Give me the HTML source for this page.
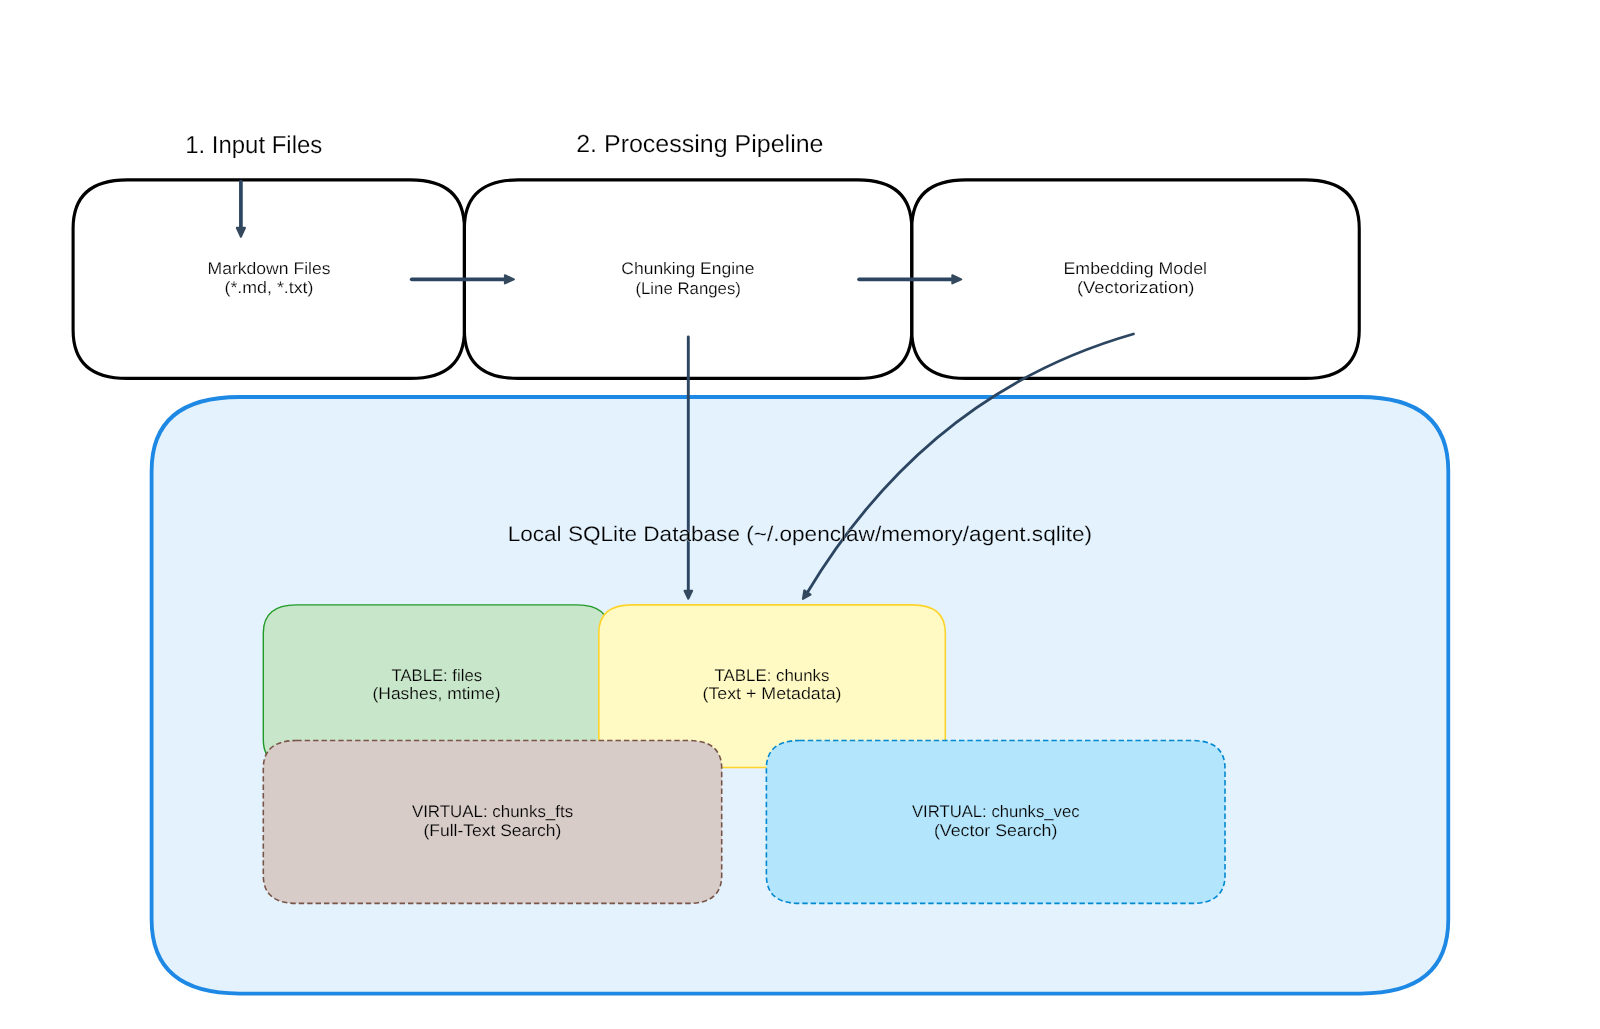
<!DOCTYPE html>
<html lang="en">
<head>
<meta charset="utf-8">
<title>Memory indexing pipeline</title>
<style>
html,body{margin:0;padding:0;background:#fff;}
body{width:1600px;height:1029px;overflow:hidden;}
svg{display:block;will-change:transform;}
text{font-family:"Liberation Sans",sans-serif;fill:#000;stroke-width:0.2px;text-rendering:geometricPrecision;}
.h{font-size:24.6px;}
.t{font-size:16.7px;}
.d{font-size:21px;}
</style>
</head>
<body>
<svg width="1600" height="1029" viewBox="0 0 1600 1029">
<rect width="1600" height="1029" fill="#fff"/>
<path d="M239.6 397H1360.3Q1448.3 397 1448.3 471V919.6Q1448.3 993.6 1360.3 993.6H239.6Q151.6 993.6 151.6 919.6V471Q151.6 397 239.6 397Z" fill="#e3f2fd" stroke="#1e88e5" stroke-width="3.8"/>
<path d="M127.1 179.9H410.4Q464.4 179.9 464.4 228.4V329.9Q464.4 378.4 410.4 378.4H127.1Q73.1 378.4 73.1 329.9V228.4Q73.1 179.9 127.1 179.9Z" fill="none" stroke="#000" stroke-width="3.1"/>
<path d="M518.4 179.9H857.75Q911.75 179.9 911.75 228.4V329.9Q911.75 378.4 857.75 378.4H518.4Q464.4 378.4 464.4 329.9V228.4Q464.4 179.9 518.4 179.9Z" fill="none" stroke="#000" stroke-width="3.1"/>
<path d="M965.75 179.9H1305.25Q1359.25 179.9 1359.25 228.4V329.9Q1359.25 378.4 1305.25 378.4H965.75Q911.75 378.4 911.75 329.9V228.4Q911.75 179.9 965.75 179.9Z" fill="none" stroke="#000" stroke-width="3.1"/>
<path d="M296.3 604.9H576.9Q609.9 604.9 609.9 632.9V739.5Q609.9 767.5 576.9 767.5H296.3Q263.3 767.5 263.3 739.5V632.9Q263.3 604.9 296.3 604.9Z" fill="#c8e6c9" stroke="#229a28" stroke-width="1.4"/>
<path d="M631.8 604.9H912.3Q945.3 604.9 945.3 632.9V739.5Q945.3 767.5 912.3 767.5H631.8Q598.8 767.5 598.8 739.5V632.9Q598.8 604.9 631.8 604.9Z" fill="#fff9c4" stroke="#fdd42c" stroke-width="1.6"/>
<path d="M296.3 740.5H688.7Q721.7 740.5 721.7 768.5V875.4Q721.7 903.4 688.7 903.4H296.3Q263.3 903.4 263.3 875.4V768.5Q263.3 740.5 296.3 740.5Z" fill="#d7ccc8" stroke="#795548" stroke-width="1.6" stroke-dasharray="5.4 3"/>
<path d="M799.4 740.5H1192Q1225 740.5 1225 768.5V875.4Q1225 903.4 1192 903.4H799.4Q766.4 903.4 766.4 875.4V768.5Q766.4 740.5 799.4 740.5Z" fill="#b3e5fc" stroke="#0288d1" stroke-width="1.6" stroke-dasharray="5.4 3"/>
<g fill="none" stroke="#2c4560" stroke-linecap="round">
<path d="M240.9 181.5V229" stroke-width="3.7"/>
<path d="M411.7 279.3H506" stroke-width="3.7"/>
<path d="M859.1 279.3H953.4" stroke-width="3.7"/>
<path d="M688.3 337V592" stroke-width="2.9"/>
<path d="M1133.4 334Q927.1 393.1 807.2 592.8" stroke-width="2.8"/>
</g>
<path transform="translate(240.9 236.8) rotate(90)" d="M0 0L-9 -4.1L-9 4.1Z" fill="#34495e" stroke="#34495e" stroke-width="2" stroke-linejoin="round"/>
<path transform="translate(513.9 279.3) rotate(0)" d="M0 0L-9 -4.1L-9 4.1Z" fill="#34495e" stroke="#34495e" stroke-width="2" stroke-linejoin="round"/>
<path transform="translate(961.3 279.3) rotate(0)" d="M0 0L-9 -4.1L-9 4.1Z" fill="#34495e" stroke="#34495e" stroke-width="2" stroke-linejoin="round"/>
<path transform="translate(688.3 598.7) rotate(90)" d="M0 0L-8 -3.8L-8 3.8Z" fill="#34495e" stroke="#34495e" stroke-width="2" stroke-linejoin="round"/>
<path transform="translate(802.9 599.0) rotate(124.5)" d="M0 0L-8 -3.8L-8 3.8Z" fill="#34495e" stroke="#34495e" stroke-width="2" stroke-linejoin="round"/>
<text class="h" x="253.75" y="152.6" text-anchor="middle" textLength="137" lengthAdjust="spacingAndGlyphs" stroke="#fff">1. Input Files</text>
<text class="h" x="699.85" y="152.4" text-anchor="middle" textLength="247.3" lengthAdjust="spacingAndGlyphs" stroke="#fff">2. Processing Pipeline</text>
<text class="t" x="269" y="274" text-anchor="middle" textLength="123" lengthAdjust="spacingAndGlyphs" stroke="#fff">Markdown Files</text>
<text class="t" x="269" y="293.2" text-anchor="middle" textLength="89" lengthAdjust="spacingAndGlyphs" stroke="#fff">(*.md, *.txt)</text>
<text class="t" x="687.9" y="273.6" text-anchor="middle" textLength="133.2" lengthAdjust="spacingAndGlyphs" stroke="#fff">Chunking Engine</text>
<text class="t" x="688.2" y="293.5" text-anchor="middle" textLength="105.5" lengthAdjust="spacingAndGlyphs" stroke="#fff">(Line Ranges)</text>
<text class="t" x="1135.25" y="274" text-anchor="middle" textLength="143.5" lengthAdjust="spacingAndGlyphs" stroke="#fff">Embedding Model</text>
<text class="t" x="1135.75" y="293.2" text-anchor="middle" textLength="117.5" lengthAdjust="spacingAndGlyphs" stroke="#fff">(Vectorization)</text>
<text class="d" x="799.9" y="540.9" text-anchor="middle" textLength="584.5" lengthAdjust="spacingAndGlyphs" stroke="#e3f2fd">Local SQLite Database (~/.openclaw/memory/agent.sqlite)</text>
<text class="t" x="436.75" y="681.2" text-anchor="middle" textLength="90.5" lengthAdjust="spacingAndGlyphs" stroke="#c8e6c9">TABLE: files</text>
<text class="t" x="436.5" y="699.2" text-anchor="middle" textLength="128" lengthAdjust="spacingAndGlyphs" stroke="#c8e6c9">(Hashes, mtime)</text>
<text class="t" x="772" y="681.2" text-anchor="middle" textLength="115" lengthAdjust="spacingAndGlyphs" stroke="#fff9c4">TABLE: chunks</text>
<text class="t" x="772" y="699.2" text-anchor="middle" textLength="139" lengthAdjust="spacingAndGlyphs" stroke="#fff9c4">(Text + Metadata)</text>
<text class="t" x="492.5" y="816.7" text-anchor="middle" textLength="161.2" lengthAdjust="spacingAndGlyphs" stroke="#d7ccc8">VIRTUAL: chunks_fts</text>
<text class="t" x="492.4" y="835.6" text-anchor="middle" textLength="137.8" lengthAdjust="spacingAndGlyphs" stroke="#d7ccc8">(Full-Text Search)</text>
<text class="t" x="995.75" y="816.7" text-anchor="middle" textLength="167.7" lengthAdjust="spacingAndGlyphs" stroke="#b3e5fc">VIRTUAL: chunks_vec</text>
<text class="t" x="995.65" y="835.6" text-anchor="middle" textLength="123.5" lengthAdjust="spacingAndGlyphs" stroke="#b3e5fc">(Vector Search)</text>
</svg>
</body>
</html>
